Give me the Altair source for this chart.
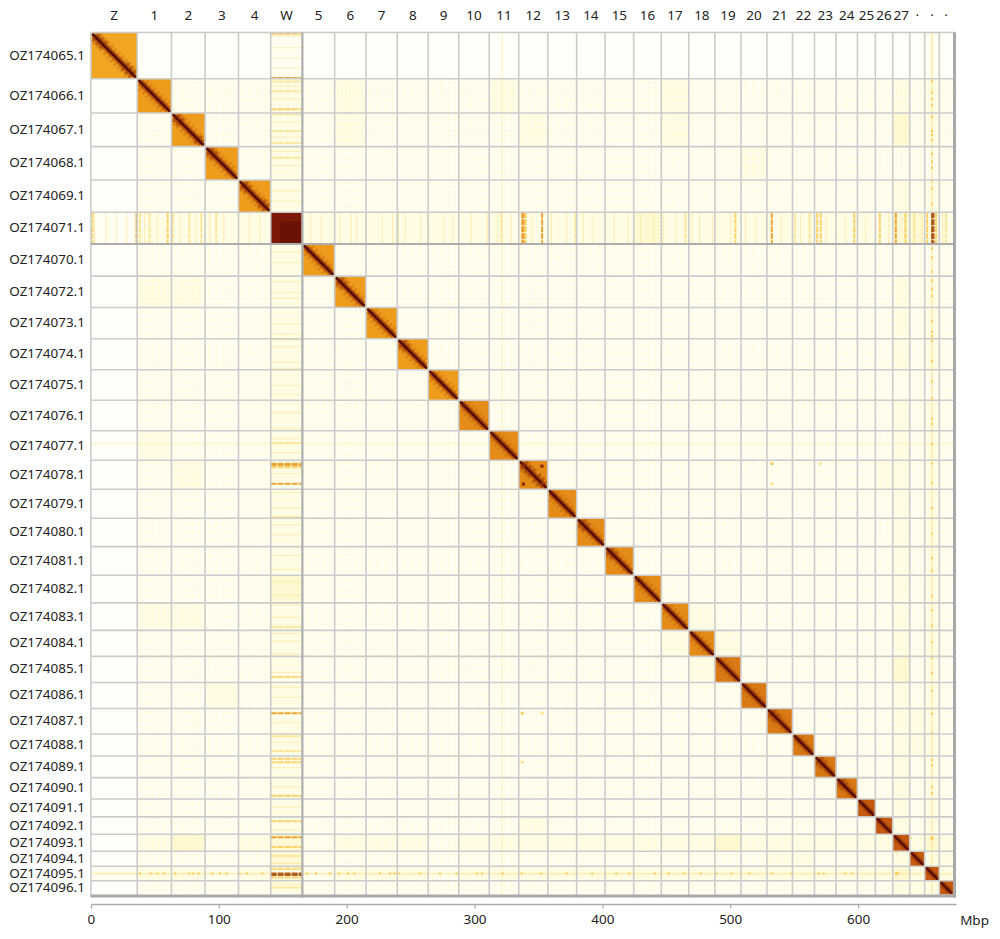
import altair as alt
import pandas as pd

# Chromosome boundaries (Mbp)
bounds = [0, 36.2, 63, 89.3, 115.4, 140.6, 165.4, 190.6, 215.1, 239.6, 263.8, 287.7, 311.5, 334.6,
          357.3, 379.9, 402.1, 424.5, 446.1, 467.6, 488, 508.4, 528.7, 548.7, 565.9, 582.8, 599.5,
          613.5, 627.1, 640.4, 652.1, 663.5, 674.2]
col_labels = ["Z", "1", "2", "3", "4", "W"] + [str(i) for i in range(5, 28)] + ["·", "·", "·"]
row_ids = [65, 66, 67, 68, 69, 71, 70] + list(range(72, 97))
row_labels = [f"OZ1740{i}.1" for i in row_ids]

# Off-diagonal contact level per chromosome pair (upper triangle, read by eye)
upper = [
    "0000 1 00000000000000000000000 010",
    "111 2 12111 12111 11211 11111 112 121",
    "11 2 12111 11211 11211 11111 113 121",
    "1 2 11111 11111 11111 21111 111 111",
    "2 11111 11111 11111 11111 112 121",
    "22222 22222 23222 22222 223 322",
    "1111111111111111111111 111",
    "111111111111111111112 121",
    "11111111111111111112 121",
    "1111111111111111112 121",
    "111111111111111111 111",
    "11111111111111112 121",
    "1111111111111112 121",
    "111111111111122 121",
    "11111111111112 121",
    "1111111111112 121",
    "111111111112 121",
    "11111111112 121",
    "2111111112 121",
    "211111112 121",
    "11111113 121",
    "1111112 121",
    "111112 221",
    "11112 221",
    "1112 121",
    "112 121",
    "12 121",
    "2 121",
    "232",
    "22",
    "2",
]
pair_palette = ["#fffffa", "#fffef0", "#fffde6", "#fff9d3"]

# Block base tone per chromosome along the diagonal
block_tone = [1, 2, 2, 2, 2, 6, 2, 2, 2, 2, 2, 3, 3, 3, 3, 3, 3, 3, 3, 3, 4, 4, 4, 4, 4, 4, 5, 5, 5, 5, 5, 5]
block_palette = ["#f0a622", "#ee9c1c", "#e58c18", "#d97a15", "#c4580f", "#7c1a0a"]

# Contact stripes in the W row (position in Mbp, strength 1-4), mirrored in the W column
w_hot = [(1.3, 2), (35.7, 3), (38.3, 1), (46, 1), (60, 2), (64, 1), (77, 1), (86.4, 1), (98, 1),
         (240, 1), (321, 1), (337.3, 3), (338.5, 3), (340, 2), (352.9, 3), (379, 1), (465, 1),
         (504, 2), (532.5, 3), (550.5, 1), (562, 1), (568, 2), (570.8, 2), (597, 2),
         (617, 2), (629.5, 3), (637, 2), (644, 1), (654, 2), (657.8, 4), (659, 4), (661, 2), (668.7, 1)]
w_faint = [3, 12, 20, 28, 42, 52, 70, 82, 93, 104, 124, 132, 172, 180, 195, 203.6, 208, 215, 228, 236, 246, 258, 263, 276,
           283, 297.4, 310, 318, 328.7, 345, 360, 372, 385, 393, 409, 420, 430, 440, 448, 457.5, 470, 476, 486, 500.5,
           512, 520, 540, 555, 575, 590, 606, 624, 650, 666]

# Full-length stripes (position in Mbp, width in px, strength)
long_stripes = [(321.6, 1.8, 0), (657.8, 1.8, 1)]
# Positions of the faint criss-cross texture (Mbp)
plaid = [39, 44, 48, 53, 57, 66, 72, 77, 80, 84, 92, 98, 104, 109, 118, 124, 130, 136, 170, 176, 183, 188, 194, 200, 203,
         208, 212, 219, 225, 231, 236, 240, 245, 251, 257, 262, 268, 274, 280, 285, 291, 297, 303, 309, 316, 324, 329,
         337, 343, 348, 353, 360, 366, 372, 379, 385, 391, 397, 404, 409, 415, 421, 428, 436, 441, 447, 452, 457, 463, 470,
         476, 482, 490, 495, 500, 505, 512, 518, 525, 532, 538, 544, 552, 558, 563, 570, 576, 585, 591, 597, 604, 610, 617,
         623, 630, 634, 638, 644, 649, 655, 660, 667, 671]

# Hot spots along the OZ174095.1 row
row95_spots = [38.3, 47, 52, 57, 66, 77, 80, 84, 95, 101, 106, 116, 122, 134, 169, 176, 187, 194, 201, 206, 226, 234,
               237.5, 241, 257, 273, 286, 302, 306, 322, 337, 352, 372, 392, 411, 421, 441, 452, 464, 477, 489, 501,
               515, 533, 548, 569, 573, 590, 595, 631]
# Isolated cross-contacts (a, b, strength)
spots = [(532.5, 337.3, 2), (570.8, 337.3, 1), (532.5, 352.9, 1), (630, 657.8, 2), (630, 641, 1)]
# Dark patches inside the diagonal blocks (x0, x1, y0, y1, tone)
patches = [(337, 339.5, 338, 340.5, 1), (351.5, 354, 338, 340.5, 1), (337, 339.5, 352, 354.5, 1),
           (351.5, 354, 352, 354.5, 1), (148, 165, 148, 165, 2)]
# Wider stretches of the diagonal band (from, to in Mbp)
wide_band = [(3.2, 11), (26, 33), (66.2, 71), (92.5, 97), (83, 86.2), (119, 123), (133, 137.4), (194, 198), (243, 247),
             (338, 345), (348, 354), (383.2, 388), (405.2, 410), (532, 538), (569, 573), (586, 590)]

n = len(col_labels)
SPAN = 676.6
PX = 866
x_scale = alt.Scale(domain=[0, SPAN], nice=False, zero=False)
y_scale = alt.Scale(domain=[0, SPAN], nice=False, zero=False, reverse=True)
x_axis = alt.Axis(
    values=[0, 100, 200, 300, 400, 500, 600], offset=6.5, grid=False, title="Mbp",
    titleX=884, titleY=9.5, titleFontWeight="normal", titleFont="Noto Sans", titleFontSize=13.5, titleColor="#222222",
    labelFont="Noto Sans", labelFontSize=13.5, labelColor="#222222", labelPadding=4,
    domainColor="#aaaaaa", domainWidth=1.5, tickColor="#999999", tickSize=4, labelFlush=False)

X = lambda f: alt.X(f, scale=x_scale, axis=x_axis)
Y = lambda f: alt.Y(f, scale=y_scale, axis=None)

# --- tables ---
cells = []
for i, s in enumerate(upper):
    s = "".join(s.split())
    for k, ch in enumerate(s):
        j = i + 1 + k
        for a, b in ((i, j), (j, i)):
            cells.append(dict(x=bounds[a], x2=bounds[a + 1], y=bounds[b], y2=bounds[b + 1], color=pair_palette[int(ch)]))
cells = pd.DataFrame(cells)

stripe_palette = ["#fdf0b0", "#fce28a", "#f8cb55", "#e9971a", "#a34805"]
WY0, WY1 = bounds[5], bounds[6]
END = bounds[-1]
GAP0 = bounds[1]

plaid_df = pd.DataFrame([dict(a=p, b0=GAP0, b1=END, w=1.0, color=stripe_palette[0]) for p in plaid])
faint_df = pd.DataFrame([dict(a=p, b0=WY0, b1=WY1, w=1.0, color=stripe_palette[1]) for p in w_faint])
long_df = pd.DataFrame([dict(a=p, b0=0, b1=END, w=w, color=stripe_palette[lv]) for p, w, lv in long_stripes])
hot_df = pd.DataFrame([dict(a=p, b0=WY0, b1=WY1, w=2.0, color=stripe_palette[lv]) for p, lv in w_hot])
row95_df = pd.DataFrame([dict(a=657.8, b0=p - .9, b1=p + .9, w=2.0, color=stripe_palette[2]) for p in row95_spots])
spot_rows = []
for a, b, lv in spots:
    spot_rows.append(dict(a=a, b0=b - 1, b1=b + 1, w=2.5, color=stripe_palette[lv]))
    spot_rows.append(dict(a=b, b0=a - 1, b1=a + 1, w=2.5, color=stripe_palette[lv]))
spot_df = pd.DataFrame(spot_rows)


def cross(df, dash, opacity):
    """Rules in both directions, since the map is symmetric about its diagonal."""
    kw = dict(strokeDash=dash, opacity=opacity, strokeCap="butt") if dash else dict(opacity=opacity, strokeCap="butt")
    col = alt.Color("color:N", scale=None)
    size = alt.Size("w:Q", scale=None)
    v = alt.Chart(df).mark_rule(**kw).encode(x=X("a:Q"), y=Y("b0:Q"), y2="b1:Q", color=col, size=size)
    h = alt.Chart(df).mark_rule(**kw).encode(y=Y("a:Q"), x=X("b0:Q"), x2="b1:Q", color=col, size=size)
    return [v, h]


blocks = pd.DataFrame([dict(x=bounds[i], x2=bounds[i + 1], y=bounds[i], y2=bounds[i + 1],
                            color=block_palette[block_tone[i] - 1]) for i in range(n)])
patch_palette = ["#d97a15", "#8f2e09", "#681306"]
patch_df = pd.DataFrame([dict(x=a, x2=b, y=c, y2=d, color=patch_palette[t]) for a, b, c, d, t in patches])


def band(inset):
    rows = []
    for i in range(n):
        if i == 5:
            continue
        rows.append(dict(chrom=i, x=bounds[i] + inset, y=bounds[i] + inset))
        rows.append(dict(chrom=i, x=bounds[i + 1] - inset, y=bounds[i + 1] - inset))
    return pd.DataFrame(rows)


wide_df = pd.DataFrame([dict(chrom=k, x=v, y=v) for k, pair in enumerate(wide_band) for v in pair])


def rects(df, opacity=1.0):
    return alt.Chart(df).mark_rect(strokeWidth=0, opacity=opacity).encode(
        x=X("x:Q"), x2="x2:Q", y=Y("y:Q"), y2="y2:Q", color=alt.Color("color:N", scale=None))


def band_layer(df, width, color, opacity, dash=None):
    kw = dict(strokeDash=dash) if dash else {}
    return alt.Chart(df).mark_line(stroke=color, strokeWidth=width, opacity=opacity, strokeCap="butt", **kw).encode(
        x=X("x:Q"), y=Y("y:Q"), detail="chrom:N")


bands = [band_layer(band(4.5), 14, "#c8650f", 0.4, [3, 2]),
         band_layer(wide_df, 11, "#a5450c", 0.6, [3, 2]),
         band_layer(band(2.5), 7, "#a03c09", 0.6),
         band_layer(band(1.0), 3, "#5c1105", 1)]

inner = pd.DataFrame({"b": bounds[:-1]})
grid_v = alt.Chart(inner).mark_rule(color="#cbcbcb", strokeWidth=1.6).encode(x=X("b:Q"))
grid_h = alt.Chart(inner).mark_rule(color="#cbcbcb", strokeWidth=1.6).encode(y=Y("b:Q"))
w_edge = pd.DataFrame({"b": [bounds[6]]})
w_v = alt.Chart(w_edge).mark_rule(color="#adadad", strokeWidth=2).encode(x=X("b:Q"))
w_h = alt.Chart(w_edge).mark_rule(color="#adadad", strokeWidth=2).encode(y=Y("b:Q"))
end_edge = pd.DataFrame({"b": [675.4]})
end_v = alt.Chart(end_edge).mark_rule(color="#a9a9a9", strokeWidth=3).encode(x=X("b:Q"))
end_h = alt.Chart(end_edge).mark_rule(color="#a9a9a9", strokeWidth=3).encode(y=Y("b:Q"))

mids = [(bounds[i] + bounds[i + 1]) / 2 for i in range(n)]
top = alt.Chart(pd.DataFrame({"m": mids, "t": col_labels})).mark_text(
    font="Noto Sans", fontSize=13.5, color="#222222", baseline="middle", align="center").encode(
    x=X("m:Q"), y=alt.value(-16), text="t:N")
left = alt.Chart(pd.DataFrame({"m": mids, "t": row_labels})).mark_text(
    font="Noto Sans", fontSize=13.5, color="#222222", baseline="middle", align="right").encode(
    y=Y("m:Q"), x=alt.value(-6), text="t:N")

chart = alt.layer(
    rects(cells),
    *cross(plaid_df, [1, 3], 0.75),
    *cross(faint_df, [3, 1], 0.75),
    *cross(long_df, None, 0.55),
    *cross(hot_df, [6, 1], 0.85),
    *cross(row95_df, None, 0.95),
    *cross(spot_df, None, 0.9),
    rects(blocks), *bands, rects(patch_df),
    grid_v, grid_h, w_v, w_h, end_v, end_h, top, left,
).properties(
    width=PX, height=PX,
    autosize=alt.AutoSizeParams(type="none"),
    padding={"left": 83, "top": 24, "right": 36, "bottom": 36},
).configure_view(stroke=None)

chart.save("out.html", embed_options={"renderer": "svg", "actions": False})
